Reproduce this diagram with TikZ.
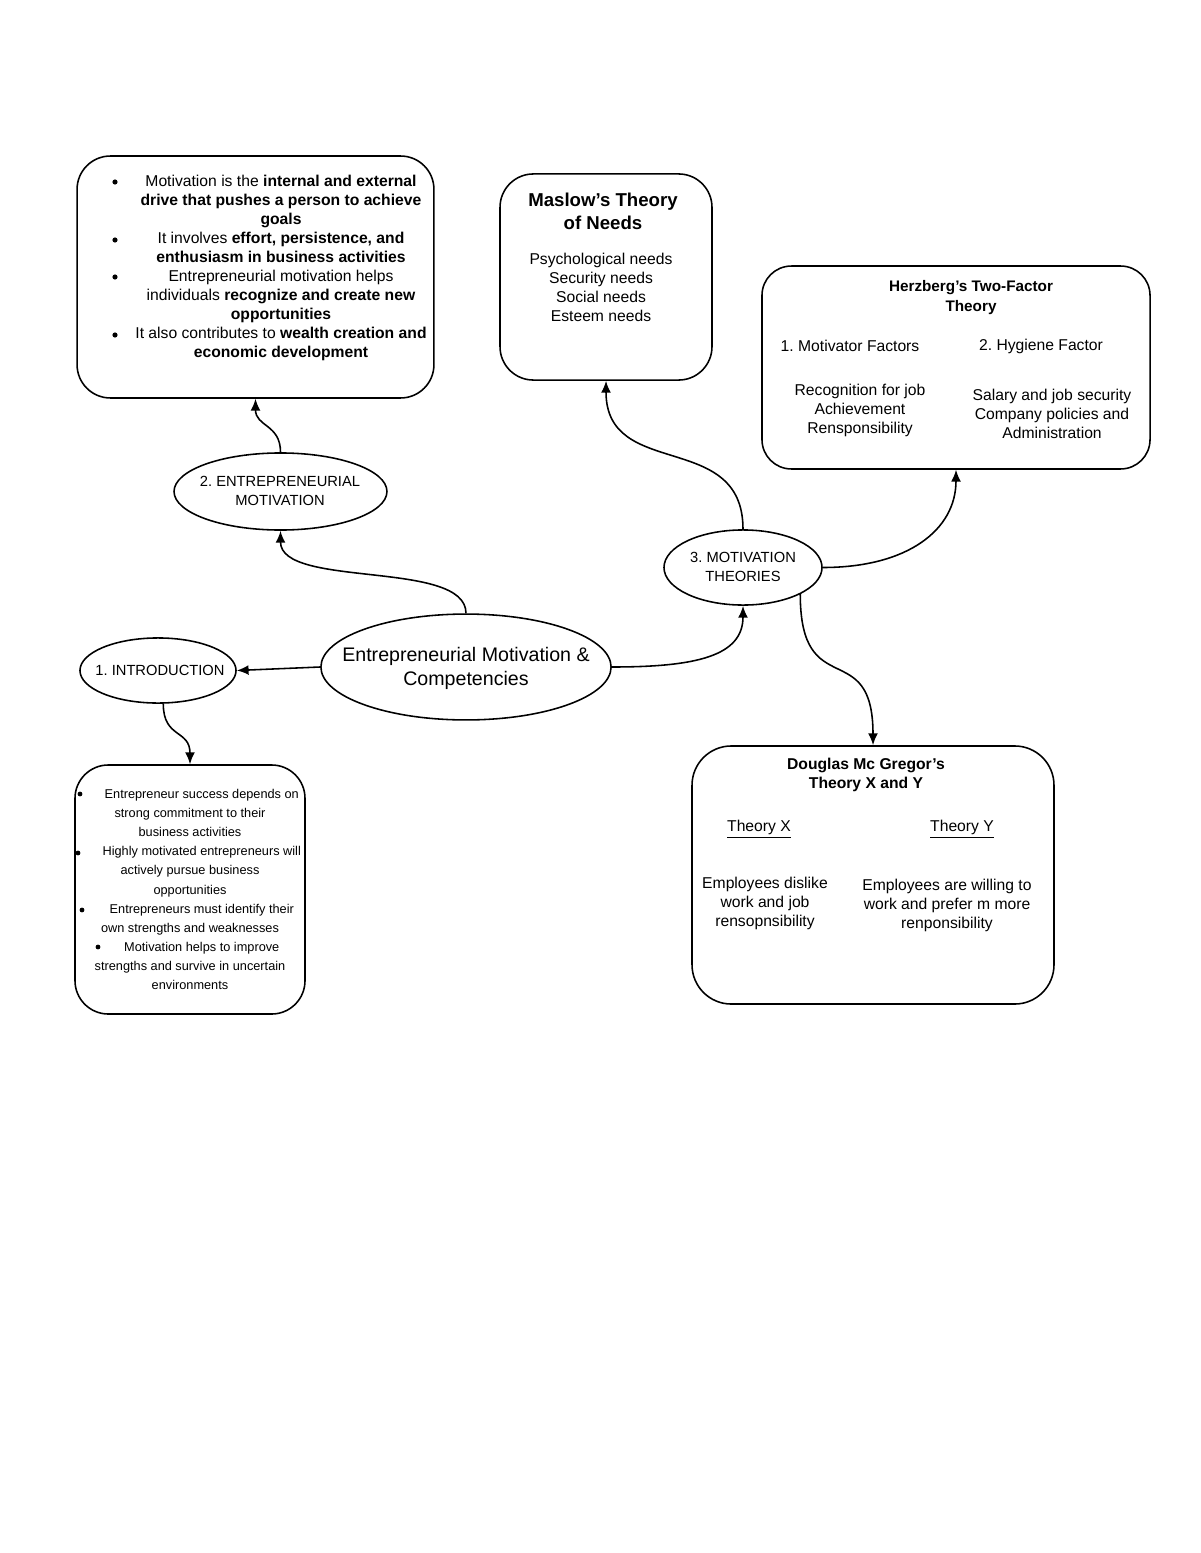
\documentclass[tikz,border=0pt]{standalone}
\usepackage{fontspec}
\setmainfont{Liberation Sans}
\usetikzlibrary{shapes.geometric,arrows.meta}
\frenchspacing

\begin{document}
\begin{tikzpicture}[x=0.51pt,y=-0.51pt,
        bubble/.style={draw,ellipse,line width=0.8pt,inner sep=0pt},
        panel/.style={draw,rectangle,rounded corners=17pt,line width=0.8pt,inner sep=0pt},
        link/.style={-{Latex[length=6pt,width=5pt]},line width=0.8pt},
        txt/.style={align=center,inner sep=0pt,font=\fontsize{8}{9.7}\selectfont},
        caps/.style={align=center,inner sep=0pt,font=\fontsize{7.5}{9.7}\selectfont},
        head/.style={align=center,inner sep=0pt,font=\bfseries\fontsize{8}{10}\selectfont}]
            \useasboundingbox (0,0) rectangle (1200,1553);

            % Kasten
            \node[panel,minimum width=182pt,minimum height=123.4pt] (drive) at (255.5,277) {};
            \node[panel,minimum width=108.1pt,minimum height=105.1pt] (maslow) at (606,277) {};
            \node[panel,rounded corners=15pt,minimum width=197.9pt,minimum height=103.5pt] (herzberg) at (956,367.5) {};
            \node[panel,rounded corners=20pt,minimum width=184.6pt,minimum height=131.6pt] (mcgregor) at (873,875) {};
            \node[panel,minimum width=117.3pt,minimum height=127pt] (success) at (190,889.5) {};

            % Ellipsen
            \node[bubble,minimum width=148pt,minimum height=54pt] (core) at (466,667) {};
            \node[bubble,minimum width=108.6pt,minimum height=39.3pt] (entmot) at (280.5,491.5) {};
            \node[bubble,minimum width=79.6pt,minimum height=33.2pt] (intro) at (158,670.5) {};
            \node[bubble,minimum width=80.6pt,minimum height=38.3pt] (theories) at (743,567.5) {};

            \node[align=center,inner sep=0pt,font=\fontsize{10}{12.2}\selectfont] (coretxt) at (466,668) {Entrepreneurial Motivation \&\\Competencies};
            \node[caps] (entmottxt) at (280,491) {2. ENTREPRENEURIAL\\MOTIVATION};
            \node[caps] (introtxt) at (160,670) {1. INTRODUCTION};
            \node[caps] (theoriestxt) at (743,567) {3. MOTIVATION\\THEORIES};

            % Texte
            \node[txt] (drivetxt) at (281,268) {Motivation is the \textbf{internal and external}\\
                \textbf{drive that pushes a person to achieve}\\
                \textbf{goals}\\
                It involves \textbf{effort, persistence, and}\\
                \textbf{enthusiasm in business activities}\\
                Entrepreneurial motivation helps\\
                individuals \textbf{recognize and create new}\\
                \textbf{opportunities}\\
                It also contributes to \textbf{wealth creation and}\\
                \textbf{economic development}};
            \foreach \y in {182,240,277,335}
                \fill (115,\y) circle (2.6);

            \node[head,font=\bfseries\fontsize{9.5}{11.7}\selectfont] (maslowhead) at (603,211.5) {Maslow's Theory\\of Needs};
            \node[txt] (needs) at (601,287.5) {Psychological needs\\Security needs\\Social needs\\Esteem needs};

            \node[head,font=\bfseries\fontsize{7.8}{9.9}\selectfont] (herzhead) at (971,297.5) {Herzberg's Two-Factor\\Theory};
            \node[txt] (motivators) at (850,346) {1. Motivator Factors};
            \node[txt] (hygiene) at (1041,346) {2. Hygiene Factor};
            \node[txt] (motlist) at (860,410) {Recognition for job\\Achievement\\Rensponsibility};
            \node[txt] (hyglist) at (1052,414) {Salary and job security\\Company policies and\\Administration};

            \node[head] (mchead) at (866,775) {Douglas Mc Gregor's\\Theory X and Y};
            \node[txt] (thx) at (759,829) {\underline{Theory X}};
            \node[txt] (thy) at (962,829) {\underline{Theory Y}};
            \node[txt] (thxtxt) at (765,903) {Employees dislike\\work and job\\rensopnsibility};
            \node[txt] (thytxt) at (947,905.5) {Employees are willing to\\work and prefer m more\\renponsibility};

            \node[align=center,inner sep=0pt,font=\fontsize{6.5}{9.75}\selectfont] (successtxt) at (190,889.5) {\hspace*{12pt}Entrepreneur success depends on\\
                strong commitment to their\\
                business activities\\
                \hspace*{12pt}Highly motivated entrepreneurs will\\
                actively pursue business\\
                opportunities\\
                \hspace*{12pt}Entrepreneurs must identify their\\
                own strengths and weaknesses\\
                \hspace*{12pt}Motivation helps to improve\\
                strengths and survive in uncertain\\
                environments};
            \fill (80,794) circle (2.4);
            \fill (78,853) circle (2.4);
            \fill (82,910) circle (2.4);
            \fill (98,947) circle (2.4);

            % Pfeile
            \draw[link] (core.west) -- (intro.east);
            \draw[link] (core.north) .. controls +(0,-54) and +(0,58) .. (entmot.south);
            \draw[link] (entmot.north) .. controls +(0,-28) and +(0,28) .. (drive.south);
            \draw[link] (intro.-81) .. controls +(0,35) and +(0,-35) .. (success.north);
            \draw[link] (core.east) .. controls +(85,0) and +(0,50) .. (theories.south);
            \draw[link] (theories.north) .. controls +(0,-100) and +(0,100) .. (maslow.south);
            \draw[link] (theories.east) .. controls +(85,0) and +(0,60) .. (herzberg.south);
            \draw[link] (theories.-25) .. controls +(0,110) and +(0,-110) .. (mcgregor.north);
        \end{tikzpicture}
\end{document}
